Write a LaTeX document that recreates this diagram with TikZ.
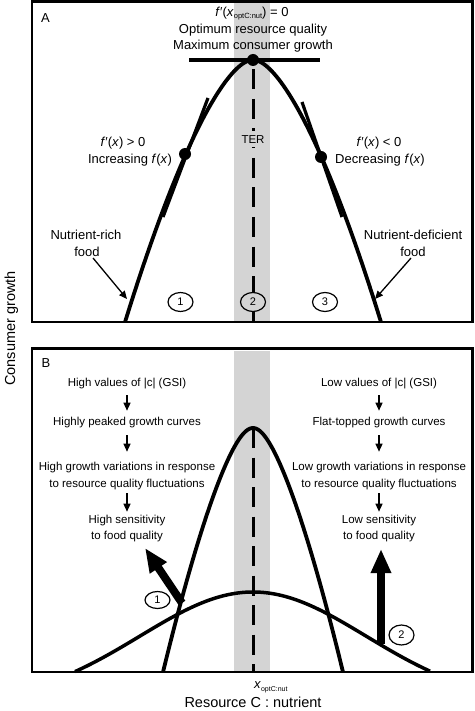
\documentclass[tikz,border=0pt]{standalone}
\usepackage{fontspec}
\setmainfont{Liberation Sans}
\usetikzlibrary{arrows.meta,shapes.geometric}
\definecolor{bandgray}{RGB}{212,212,212}
\begin{document}
\begin{tikzpicture}[x=1pt,y=-1pt,
  boxline/.style={line width=2.8pt},
  curve/.style={line width=3.8pt, line join=round},
  midline/.style={line width=3pt, dash pattern=on 20pt off 9.5pt},
  tanline/.style={line width=3.2pt},
  dotmark/.style={circle, fill=black, inner sep=0pt, minimum size=12pt},
  alabel/.style={font=\fontsize{13}{15}\selectfont, inner sep=0pt, anchor=base},
  blabel/.style={font=\fontsize{11.5}{13}\selectfont, inner sep=0pt, anchor=base},
  axlabel/.style={font=\fontsize{14.5}{16}\selectfont, inner sep=0pt, anchor=base},
  numcirc/.style={ellipse, draw, line width=1.2pt, minimum width=25pt, minimum height=19pt, inner sep=0pt, font=\fontsize{11}{12}\selectfont, fill=white},
  thinarrow/.style={line width=1.3pt, -{Triangle[length=8pt,width=7pt]}},
  thickarrow/.style={line width=8pt, -{Triangle[length=24pt,width=19pt]}},
]
\useasboundingbox (0,0) rectangle (474,711);

% ---------- gray bands ----------
\fill[bandgray] (234,1.4) rectangle (270,322);
\fill[bandgray] (234,351) rectangle (270,672);

% ---------- panel A ----------
\coordinate (peakA) at (253,60);
\coordinate (baseA) at (253,322);
\draw[midline, dash phase=20pt] (peakA) -- (baseA);
\node[font=\fontsize{11.5}{12}\selectfont, fill=bandgray, inner xsep=1pt, inner ysep=4pt, anchor=base] (ter) at (253,143.3) {TER};

\draw[curve] plot[domain=-128:128, samples=121, smooth] ({253+\x},{60+5.94*(pow(1+(\x/11)^2,0.775)-1)});

\coordinate (htl) at (189,60);
\coordinate (htr) at (320,60);
\draw[tanline] (htl) -- (htr);
\node[dotmark] (peakdot) at (peakA) {};

\coordinate (tl1) at (208,98);
\coordinate (tl2) at (163,217);
\draw[tanline] (tl1) -- (tl2);
\node[dotmark] (ldot) at (185,154) {};
\coordinate (tr1) at (302,102);
\coordinate (tr2) at (342,217);
\draw[tanline] (tr1) -- (tr2);
\node[dotmark] (rdot) at (321,157) {};

\node[alabel, anchor=base west] (lblA) at (41,22.7) {A};
\node[alabel] (fzero) at (252,16.5) {\textit{f}′(\textit{x}\raisebox{-2.5pt}{\fontsize{7.5}{8}\selectfont optC:nut}) = 0};
\node[alabel] (optq) at (253,33.3) {Optimum resource quality};
\node[alabel] (maxg) at (253,49.3) {Maximum consumer growth};

\node[alabel] (fpos) at (123,146.7) {\textit{f}′(\textit{x}) > 0};
\node[alabel] (incr) at (130,163.3) {Increasing \textit{f}(\textit{x})};
\node[alabel] (fneg) at (379,146.7) {\textit{f}′(\textit{x}) < 0};
\node[alabel] (decr) at (380,163.3) {Decreasing \textit{f}(\textit{x})};

\node[alabel] (nrich) at (86,240) {Nutrient-rich};
\node[alabel] (nrfood) at (87,256) {food};
\node[alabel] (ndef) at (413,240) {Nutrient-deficient};
\node[alabel] (ndfood) at (413,256) {food};
\coordinate (nrs) at (93,258);
\coordinate (nrt) at (127,299);
\draw[thinarrow] (nrs) -- (nrt);
\coordinate (nds) at (411,258);
\coordinate (ndt) at (375,299);
\draw[thinarrow] (nds) -- (ndt);

\node[numcirc] (ca1) at (180.5,302) {1};
\node[numcirc, fill=bandgray] (ca2) at (253,302) {2};
\node[numcirc] (ca3) at (325,302) {3};

% ---------- panel B ----------
\coordinate (peakB) at (253,428);
\coordinate (baseB) at (253,672);
\draw[midline] (peakB) -- (baseB);
\draw[curve] plot[domain=-90:90, samples=121, smooth] ({253+\x},{428+17.3*(pow(1+(\x/14)^2,0.725)-1)});
\draw[curve, line width=3.5pt] plot[domain=-178:177, samples=121, smooth] ({253+\x},{592+112*(1-exp(-((\x/100)^2)/2.5538))});

\node[alabel, anchor=base west] (lblB) at (41.5,367.7) {B};

\node[blabel] (l1) at (127,386.7) {High values of |c| (GSI)};
\node[blabel] (l2) at (127,425.7) {Highly peaked growth curves};
\node[blabel] (l3a) at (127,470.7) {High growth variations in response};
\node[blabel] (l3b) at (127,487) {to resource quality fluctuations};
\node[blabel] (l4a) at (127,523.3) {High sensitivity};
\node[blabel] (l4b) at (127,539.3) {to food quality};
\draw[thinarrow] ([yshift=-8.3pt]l1.base) -- ([yshift=15pt]l2.base);
\draw[thinarrow] ([yshift=-9.3pt]l2.base) -- ([yshift=19pt]l3a.base);
\draw[thinarrow] ([yshift=-6pt]l3b.base) -- ([yshift=11.6pt]l4a.base);

\node[blabel] (r1) at (379,386.7) {Low values of |c| (GSI)};
\node[blabel] (r2) at (379,425.7) {Flat-topped growth curves};
\node[blabel] (r3a) at (379,470.7) {Low growth variations in response};
\node[blabel] (r3b) at (379,487) {to resource quality fluctuations};
\node[blabel] (r4a) at (379,523.3) {Low sensitivity};
\node[blabel] (r4b) at (379,539.3) {to food quality};
\draw[thinarrow] ([yshift=-8.3pt]r1.base) -- ([yshift=15pt]r2.base);
\draw[thinarrow] ([yshift=-9.3pt]r2.base) -- ([yshift=19pt]r3a.base);
\draw[thinarrow] ([yshift=-6pt]r3b.base) -- ([yshift=11.6pt]r4a.base);

\coordinate (ta1s) at (182,603);
\coordinate (ta1e) at (145,548);
\draw[thickarrow] (ta1s) -- (ta1e);
\coordinate (ta2s) at (381,644);
\coordinate (ta2e) at (381,549);
\draw[thickarrow] (ta2s) -- (ta2e);

\node[numcirc, minimum height=17pt] (cb1) at (157.5,600) {1};
\node[numcirc, minimum height=20pt] (cb2) at (401.5,635) {2};

% ---------- frames ----------
\draw[boxline] (32,1.4) rectangle (472.6,322);
\draw[boxline] (32,348.5) rectangle (472.6,672);

% ---------- axis labels ----------
\node[axlabel, rotate=90] (ylab) at (15,328.5) {Consumer growth};
\node[anchor=base west, font=\fontsize{13}{14}\selectfont, inner sep=0pt] (xopt) at (254,688) {\textit{x}\raisebox{-3pt}{\fontsize{7}{8}\selectfont optC:nut}};
\node[axlabel] (xlab) at (253,707) {Resource C : nutrient};
\end{tikzpicture}
\end{document}
